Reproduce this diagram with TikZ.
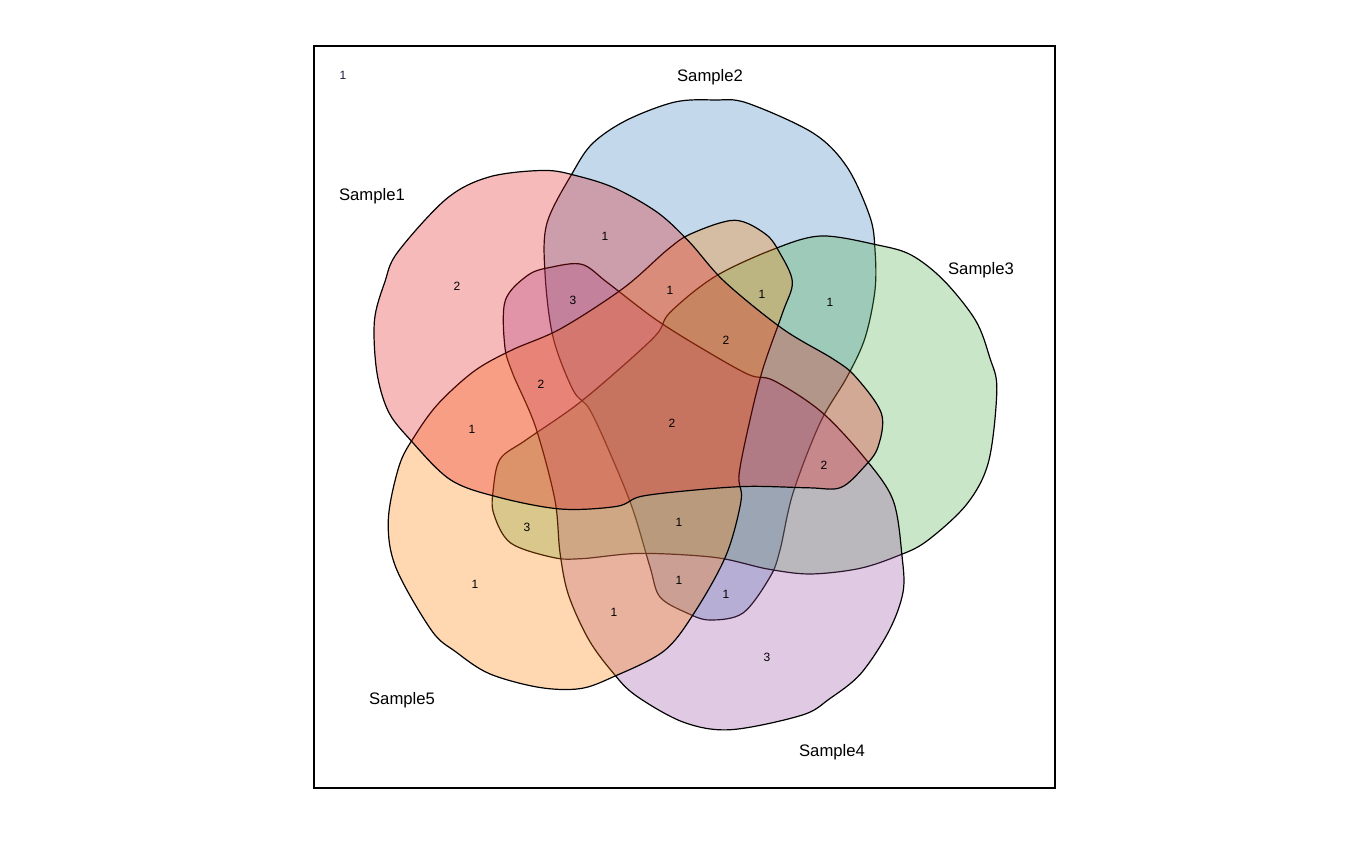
\documentclass[tikz,border=0pt]{standalone}
\usepackage{fontspec}
\setmainfont{Liberation Sans}
\definecolor{sA}{HTML}{E41A1C}
\definecolor{sB}{HTML}{377EB8}
\definecolor{sC}{HTML}{4DAF4A}
\definecolor{sD}{HTML}{984EA3}
\definecolor{sE}{HTML}{FF7F00}
\definecolor{cnt}{HTML}{1A1A40}
\begin{document}
\begin{tikzpicture}[x=0.75pt,y=-0.75pt,
  setshape/.style={draw=black,line width=0.9pt,fill opacity=0.3,draw opacity=1},
  lab/.style={font=\fontsize{12.5}{14}\selectfont},
  num/.style={font=\fontsize{9}{10}\selectfont,text=black}]
\useasboundingbox (0,0) rectangle (1358,848);
\draw[line width=0.9pt] (314,46) rectangle (1055,788);
\foreach \ang/\col in {0/sB,-72/sC,-144/sD,-216/sE,72/sA}{
  \begin{scope}[shift={(675,418)},rotate=\ang]
  \draw[setshape,fill=\col] plot[smooth cycle,tension=0.55] coordinates{
   (40,-318) (72,-315) (138,-285) (172,-251) (195,-201) (200,-168) (200,-128)
   (190,-80) (172,-41) (145,5) (118,75) (105,132) (95,159) (68,195) (35,202)
   (12,195) (-15,179) (-25,149) (-42,92) (-62,42) (-85,-8) (-102,-28)
   (-122,-81) (-130,-145) (-128,-195) (-102,-246) (-82,-275) (-48,-298) (0,-316)};
  \end{scope}
}
\node[lab] (l1) at (372,196) {Sample1};
\node[lab] (l2) at (710,77) {Sample2};
\node[lab] (l3) at (981,270) {Sample3};
\node[lab] (l4) at (832,752) {Sample4};
\node[lab] (l5) at (402,700) {Sample5};
\node[num,text=cnt] (n0) at (343,75) {1};
\foreach \x/\y/\t [count=\i] in {605/236/1,457/286/2,573/300/3,670/290/1,762/294/1,830/302/1,726/340/2,541/384/2,472/429/1,672/423/2,824/465/2,527/527/3,679/522/1,475/584/1,679/580/1,726/594/1,614/612/1,767/657/3}{
  \node[num] (c\i) at (\x,\y) {\t};
}
\end{tikzpicture}
\end{document}
